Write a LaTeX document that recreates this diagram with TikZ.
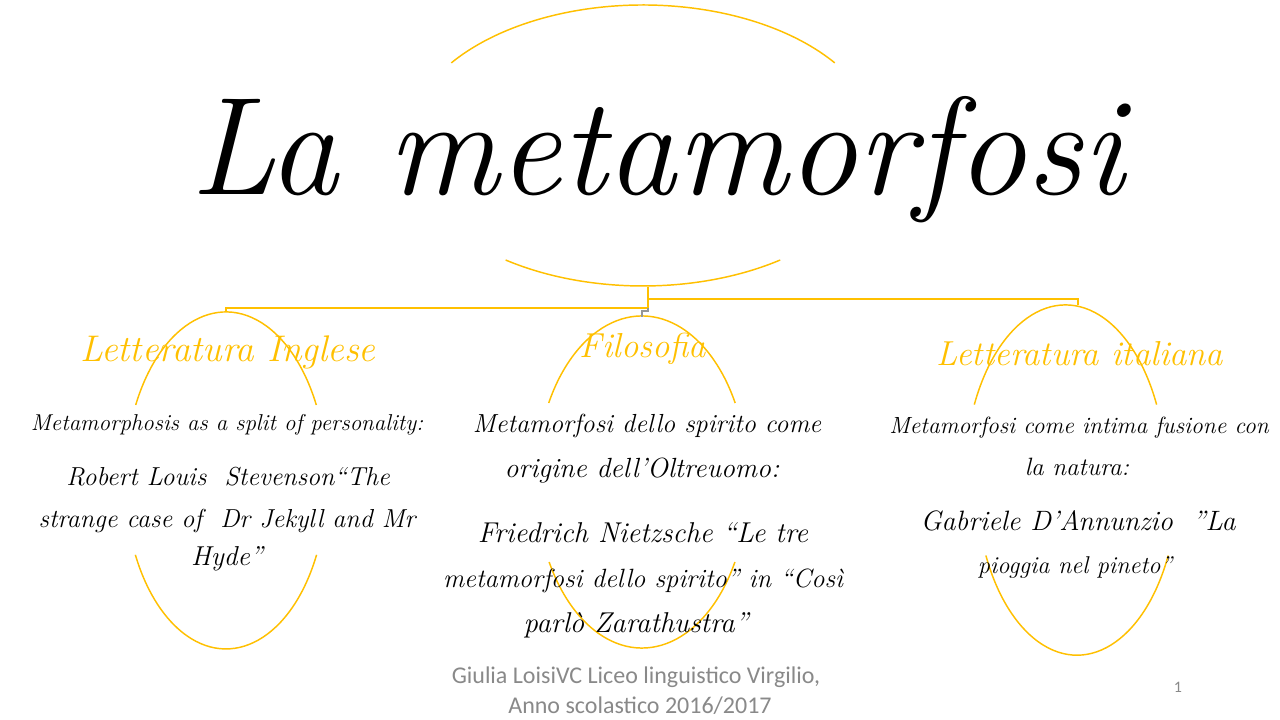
\documentclass[tikz,border=0pt]{standalone}
\usepackage{fontspec}
\newfontfamily\footfont{Carlito}
\definecolor{gold}{RGB}{255,192,0}
\definecolor{footgray}{RGB}{137,137,137}
\definecolor{joggray}{RGB}{150,150,150}
\newcommand{\fsz}[1]{\fontsize{#1}{#1}\selectfont\itshape}
\begin{document}
\begin{tikzpicture}[x=0.75pt,y=-0.75pt,
  arcline/.style={draw=gold, line width=1.1pt},
  conn/.style={draw=gold, line width=1.4pt},
  jogline/.style={draw=joggray, line width=1.2pt},
  title/.style={anchor=base, inner sep=0pt, font=\fsz{104.5}},
  head/.style={anchor=base, inner sep=0pt, text=gold, font=\fsz{26}},
  body/.style={anchor=base, inner sep=0pt, font=\fsz{19.5}},
  foot/.style={anchor=base, inner sep=0pt, text=footgray, font=\footfont\fontsize{18}{21}\selectfont}]
\useasboundingbox (0,0) rectangle (1280,720);
\fill[white] (0,0) rectangle (1280,720);

% title arcs
\draw[arcline] (451.3,62.9) arc[start angle=-144, end angle=-36, x radius=237, y radius=140.5];
\draw[arcline] (780.2,260) arc[start angle=54.6, end angle=125.4, x radius=237, y radius=140.5];
% left arcs
\draw[arcline] (135.7,405) arc[start angle=-153.4, end angle=-26.6, x radius=101, y radius=168.5];
\draw[arcline] (316.6,554.8) arc[start angle=26.2, end angle=153.8, x radius=101, y radius=168.5];
% middle arcs
\draw[arcline] (548.7,403) arc[start angle=-151.6, end angle=-28.4, x radius=106, y radius=166];
\draw[arcline] (734.9,562) arc[start angle=28.8, end angle=151.2, x radius=106, y radius=166];
% right arcs
\draw[arcline] (974.3,404.6) arc[start angle=-154.5, end angle=-25.5, x radius=101, y radius=175];
\draw[arcline] (1168.2,555.5) arc[start angle=25.5, end angle=154.5, x radius=101, y radius=175];

% connector ends
\coordinate (mainbot) at (648,287);
\coordinate (lefttop) at (226,312);
\coordinate (midtop) at (642,317);
\coordinate (righttop) at (1078,305);
\coordinate (hubleft) at (648,308);

\draw[conn] (mainbot) |- (righttop |- 0,299) -- (righttop);
\draw[conn] (mainbot) -- (hubleft) -| (lefttop);
\draw[jogline] (hubleft) -- (648,311) -- (642,311) -- (midtop);

% title
\node[title] (ttl) at (657,195) {La metamorfosi};

% headings
\node[head, font=\fsz{27.8}] (h1) at (228,361) {Letteratura Inglese};
\node[head] (h2) at (643,357) {Filosofia};
\node[head] (h3) at (1080,365) {Letteratura italiana};

% left column
\node[body, font=\fsz{17.2}] (a1) at (227,430) {Metamorphosis as a split of personality:};
\node[body] (a2) at (228,485) {Robert Louis\ \ Stevenson“The};
\node[body] (a3) at (227,527) {strange case of\ \ Dr Jekyll and Mr};
\node[body, font=\fsz{20.5}] (a4) at (227,565) {Hyde”};

% middle column
\node[body, font=\fsz{19.6}] (b1) at (647,432) {Metamorfosi dello spirito come};
\node[body, font=\fsz{20.8}] (b2) at (642,477) {origine dell’Oltreuomo:};
\node[body, font=\fsz{21.5}] (b3) at (643,542) {Friedrich Nietzsche “Le tre};
\node[body, font=\fsz{19.8}] (b4) at (643,587) {metamorfosi dello spirito” in “Così};
\node[body, font=\fsz{21.5}] (b5) at (636,632) {parlò Zarathustra”};

% right column
\node[body, font=\fsz{17.6}] (c1) at (1079,433) {Metamorfosi come intima fusione con};
\node[body, font=\fsz{18.8}] (c2) at (1077,475) {la natura:};
\node[body, font=\fsz{21}] (c3) at (1078,530) {Gabriele D’Annunzio\ \ "La};
\node[body, font=\fsz{18.2}] (c4) at (1075,573) {pioggia nel pineto"};

% footer
\node[foot] (f1) at (636,683) {Giulia LoisiVC Liceo linguistico Virgilio,};
\node[foot] (f2) at (640,713) {Anno scolastico 2016/2017};
\node[foot, font=\footfont\fontsize{12}{14}\selectfont] (pg) at (1178,692) {1};
\end{tikzpicture}
\end{document}
